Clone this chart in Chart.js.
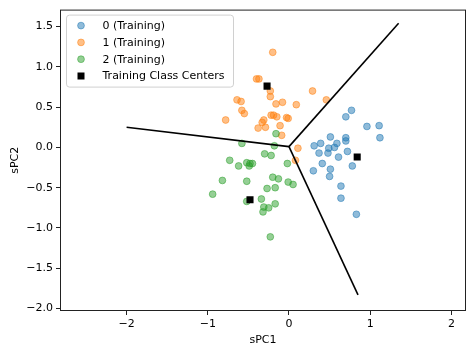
<!DOCTYPE html>
<html>
<head>
<meta charset="utf-8">
<script src="https://cdn.jsdelivr.net/npm/chart.js@4.4.1/dist/chart.umd.min.js"></script>
<style>
    html, body { margin: 0; padding: 0; background: #fff; }
    #wrap { width: 474px; height: 353px; }
</style>
</head>
<body>
<div id="wrap"><canvas id="ldaChart" width="474" height="353"></canvas></div>
<script>
// class 0 (blue)
const class0X = [0.77, 0.70, 0.96, 1.11, 1.12, 0.51, 0.70, 0.70, 0.31, 0.39, 0.59, 0.56, 0.49, 0.37, 0.48, 0.72, 0.61, 0.41, 0.78, 0.51, 0.30, 0.50, 0.64, 0.64, 0.83];
const class0Y = [0.46, 0.38, 0.26, 0.27, 0.12, 0.13, 0.12, 0.08, 0.02, 0.05, 0.05, 0.00, -0.01, -0.07, -0.07, -0.05, -0.12, -0.20, -0.23, -0.27, -0.29, -0.36, -0.48, -0.63, -0.83];

// class 1 (orange)
const class1X = [-0.20, -0.40, -0.37, -0.23, 0.29, -0.64, -0.59, -0.23, -0.16, -0.08, 0.09, -0.58, -0.55, -0.78, -0.22, -0.19, -0.15, -0.03, -0.01, -0.31, -0.33, -0.11, -0.38, -0.29, -0.09, 0.46, 0.11, 0.08];
const class1Y = [1.18, 0.85, 0.85, 0.70, 0.70, 0.59, 0.57, 0.63, 0.54, 0.56, 0.53, 0.46, 0.42, 0.34, 0.40, 0.40, 0.38, 0.37, 0.36, 0.34, 0.31, 0.27, 0.24, 0.25, 0.15, 0.59, -0.01, -0.16];

// class 2 (green)
const class2X = [-0.58, -0.18, -0.16, -0.30, -0.22, -0.73, -0.52, -0.62, -0.48, -0.45, -0.49, -0.02, -0.82, -0.52, -0.20, -0.13, -0.01, 0.05, -0.27, -0.17, -0.94, -0.52, -0.34, -0.17, -0.31, -0.25, -0.32, -0.23];
const class2Y = [0.05, 0.02, 0.17, -0.08, -0.10, -0.16, -0.19, -0.23, -0.20, -0.20, -0.23, -0.20, -0.41, -0.42, -0.37, -0.39, -0.43, -0.46, -0.51, -0.50, -0.58, -0.67, -0.64, -0.70, -0.74, -0.75, -0.80, -1.11];

// class centers
const centerX = [0.84, -0.27, -0.48];
const centerY = [-0.12, 0.76, -0.65];

// decision boundaries: from the common vertex out to each end
const vertex = [0.0, 0.01];
const boundaryEndX = [-2.0, 1.35, 0.85];
const boundaryEndY = [0.25, 1.54, -1.83];

const xTicks = [-2, -1, 0, 1, 2];
const yTicks = [-2.0, -1.5, -1.0, -0.5, 0.0, 0.5, 1.0, 1.5];

const seriesLabels = ['0 (Training)', '1 (Training)', '2 (Training)', 'Training Class Centers'];
const seriesColors = ['rgba(31,119,180,0.5)', 'rgba(255,127,14,0.5)', 'rgba(44,160,44,0.5)', '#000000'];

const toPoints = (xs, ys) => xs.map((x, i) => ({ x: x, y: ys[i] }));
const fmt = (v, digits) => {
    const s = Math.abs(v).toFixed(digits);
    return v < -1e-9 ? '\u2212' + s : s;
};

const FONT = "'DejaVu Sans', sans-serif";

const scatterSet = (label, xs, ys, color) => ({
    label: label,
    data: toPoints(xs, ys),
    backgroundColor: color,
    borderColor: color,
    borderWidth: 1,
    pointRadius: 3.4,
    pointHoverRadius: 3.4
});

const boundarySets = boundaryEndX.map((x, i) => ({
    type: 'line',
    label: 'boundary' + i,
    data: [{ x: vertex[0], y: vertex[1] }, { x: x, y: boundaryEndY[i] }],
    borderColor: '#000',
    borderWidth: 1.6,
    pointRadius: 0,
    showLine: true,
    fill: false
}));

const frame = {
    id: 'frame',
    afterDraw(chart) {
        const { ctx, chartArea: a } = chart;
        ctx.save();
        ctx.strokeStyle = '#222';
        ctx.lineWidth = 1;
        ctx.strokeRect(a.left + 0.5, a.top + 0.5, a.right - a.left - 1, a.bottom - a.top - 1);
        ctx.restore();
    }
};

const insideLegend = {
    id: 'insideLegend',
    afterDraw(chart) {
        const { ctx, chartArea: a } = chart;
        const x0 = a.left + 6.5, y0 = a.top + 5.5, w = 167, h = 72;
        ctx.save();
        ctx.beginPath();
        ctx.roundRect(x0, y0, w, h, 3);
        ctx.fillStyle = 'rgba(255,255,255,0.8)';
        ctx.fill();
        ctx.strokeStyle = '#d0d0d0';
        ctx.lineWidth = 1;
        ctx.stroke();
        ctx.font = '11px ' + FONT;
        ctx.textBaseline = 'middle';
        ctx.textAlign = 'left';
        seriesLabels.forEach((label, i) => {
            const y = y0 + 10.5 + i * 16.8;
            const mx = x0 + 14.5;
            ctx.fillStyle = seriesColors[i];
            ctx.strokeStyle = seriesColors[i];
            if (i < 3) {
                ctx.beginPath();
                ctx.arc(mx, y, 3.4, 0, Math.PI * 2);
                ctx.fill();
                ctx.stroke();
            } else {
                ctx.fillRect(mx - 3.5, y - 3.5, 7, 7);
            }
            ctx.fillStyle = '#000';
            ctx.fillText(label, x0 + 36, y + 0.5);
        });
        ctx.restore();
    }
};

const ctx = document.getElementById('ldaChart').getContext('2d');
new Chart(ctx, {
    type: 'scatter',
    data: {
        datasets: [
            {
                label: seriesLabels[3],
                data: toPoints(centerX, centerY),
                pointStyle: 'rect',
                pointRadius: 5,
                pointHoverRadius: 5,
                backgroundColor: '#000',
                borderColor: '#000',
                borderWidth: 0
            },
            ...boundarySets,
            scatterSet(seriesLabels[2], class2X, class2Y, seriesColors[2]),
            scatterSet(seriesLabels[1], class1X, class1Y, seriesColors[1]),
            scatterSet(seriesLabels[0], class0X, class0Y, seriesColors[0])
        ]
    },
    options: {
        responsive: false,
        animation: false,
        events: [],
        layout: { padding: { left: 0, right: 8, top: 8, bottom: 0 } },
        plugins: {
            legend: { display: false },
            tooltip: { enabled: false }
        },
        scales: {
            x: {
                type: 'linear',
                min: -2.82,
                max: 2.18,
                afterBuildTicks: (scale) => { scale.ticks = xTicks.map(v => ({ value: v })); },
                afterFit: (scale) => { scale.height = 42; },
                border: { display: false },
                grid: { drawOnChartArea: false, drawTicks: true, tickLength: 4, color: '#222' },
                ticks: {
                    color: '#000',
                    padding: 3,
                    maxRotation: 0,
                    font: { family: FONT, size: 11 },
                    callback: (v) => fmt(v, 0)
                },
                title: {
                    display: true,
                    text: 'sPC1',
                    color: '#000',
                    font: { family: FONT, size: 11 },
                    padding: { top: 2, bottom: 6 }
                }
            },
            y: {
                type: 'linear',
                min: -2.03,
                max: 1.71,
                afterBuildTicks: (scale) => { scale.ticks = yTicks.map(v => ({ value: v })); },
                afterFit: (scale) => { scale.width = 60; },
                border: { display: false },
                grid: { drawOnChartArea: false, drawTicks: true, tickLength: 4, color: '#222' },
                ticks: {
                    color: '#000',
                    padding: 3,
                    font: { family: FONT, size: 11 },
                    callback: (v) => fmt(v, 1)
                },
                title: {
                    display: true,
                    text: 'sPC2',
                    color: '#000',
                    font: { family: FONT, size: 11 },
                    padding: { top: 9, bottom: 4 }
                }
            }
        }
    },
    plugins: [frame, insideLegend]
});
</script>
</body>
</html>
